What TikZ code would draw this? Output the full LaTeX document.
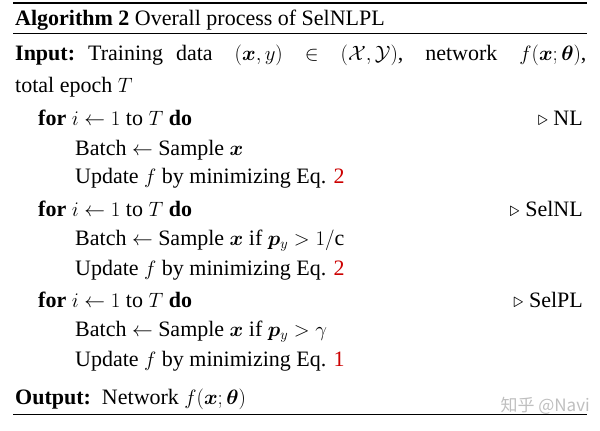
\documentclass[tikz,border=0pt]{standalone}
\usepackage{amsmath,amssymb,bm}
\usepackage{fontspec}
\setmainfont{Liberation Serif}
\newfontfamily\cjk{Noto Sans CJK SC}
\newcommand{\gp}{\hspace{22pt}}
\begin{document}
\begin{tikzpicture}[x=1pt,y=-1pt,
  txt/.style={anchor=base west,inner sep=0pt,font=\fontsize{22}{25}\selectfont},
  cmt/.style={anchor=base east,inner sep=0pt,font=\fontsize{22}{25}\selectfont}]
\useasboundingbox (0,0) rectangle (600,431);
\draw[line width=1.4pt] (13,3) -- (587,3);
\draw[line width=0.8pt] (13,33) -- (587,33);
\draw[line width=0.8pt] (13,414) -- (587,414);
\node[txt] (title) at (15,25) {\textbf{Algorithm 2} Overall process of SelNLPL};
\node[txt] (in1) at (15,60) {\textbf{Input:}\hspace{13pt}Training\hspace{13pt}data\gp$(\bm{x},y)$\gp$\in$\gp$(\mathcal{X},\mathcal{Y})$,\gp network\gp$f(\bm{x};\bm{\theta})$,};
\node[txt] (in2) at (15,92) {total epoch $T$};
\node[txt] (f1) at (38,125) {\textbf{for} $i\leftarrow 1$ to $T$ \textbf{do}};
\node[cmt] (c1) at (583,125) {$\triangleright$ NL};
\node[txt] (b1) at (75,155) {Batch $\leftarrow$ Sample $\bm{x}$};
\node[txt] (u1) at (75,183) {Update $f$ by minimizing Eq. \textcolor{red!80!black}{2}};
\node[txt] (f2) at (38,216) {\textbf{for} $i\leftarrow 1$ to $T$ \textbf{do}};
\node[cmt] (c2) at (583,216) {$\triangleright$ SelNL};
\node[txt] (b2) at (75,245) {Batch $\leftarrow$ Sample $\bm{x}$ if $\bm{p}_y>1/$c};
\node[txt] (u2) at (75,275) {Update $f$ by minimizing Eq. \textcolor{red!80!black}{2}};
\node[txt] (f3) at (38,307) {\textbf{for} $i\leftarrow 1$ to $T$ \textbf{do}};
\node[cmt] (c3) at (583,307) {$\triangleright$ SelPL};
\node[txt] (b3) at (75,336) {Batch $\leftarrow$ Sample $\bm{x}$ if $\bm{p}_y>\gamma$};
\node[txt] (u3) at (75,366) {Update $f$ by minimizing Eq. \textcolor{red!80!black}{1}};
\node[txt] (out) at (15,404) {\textbf{Output:}\ \ Network $f(\bm{x};\bm{\theta})$};
\node[anchor=base east,inner sep=0pt,text=black!25,font=\cjk\fontsize{17}{20}\selectfont] (wm) at (590,411) {知乎 @Navi};
\end{tikzpicture}
\end{document}
